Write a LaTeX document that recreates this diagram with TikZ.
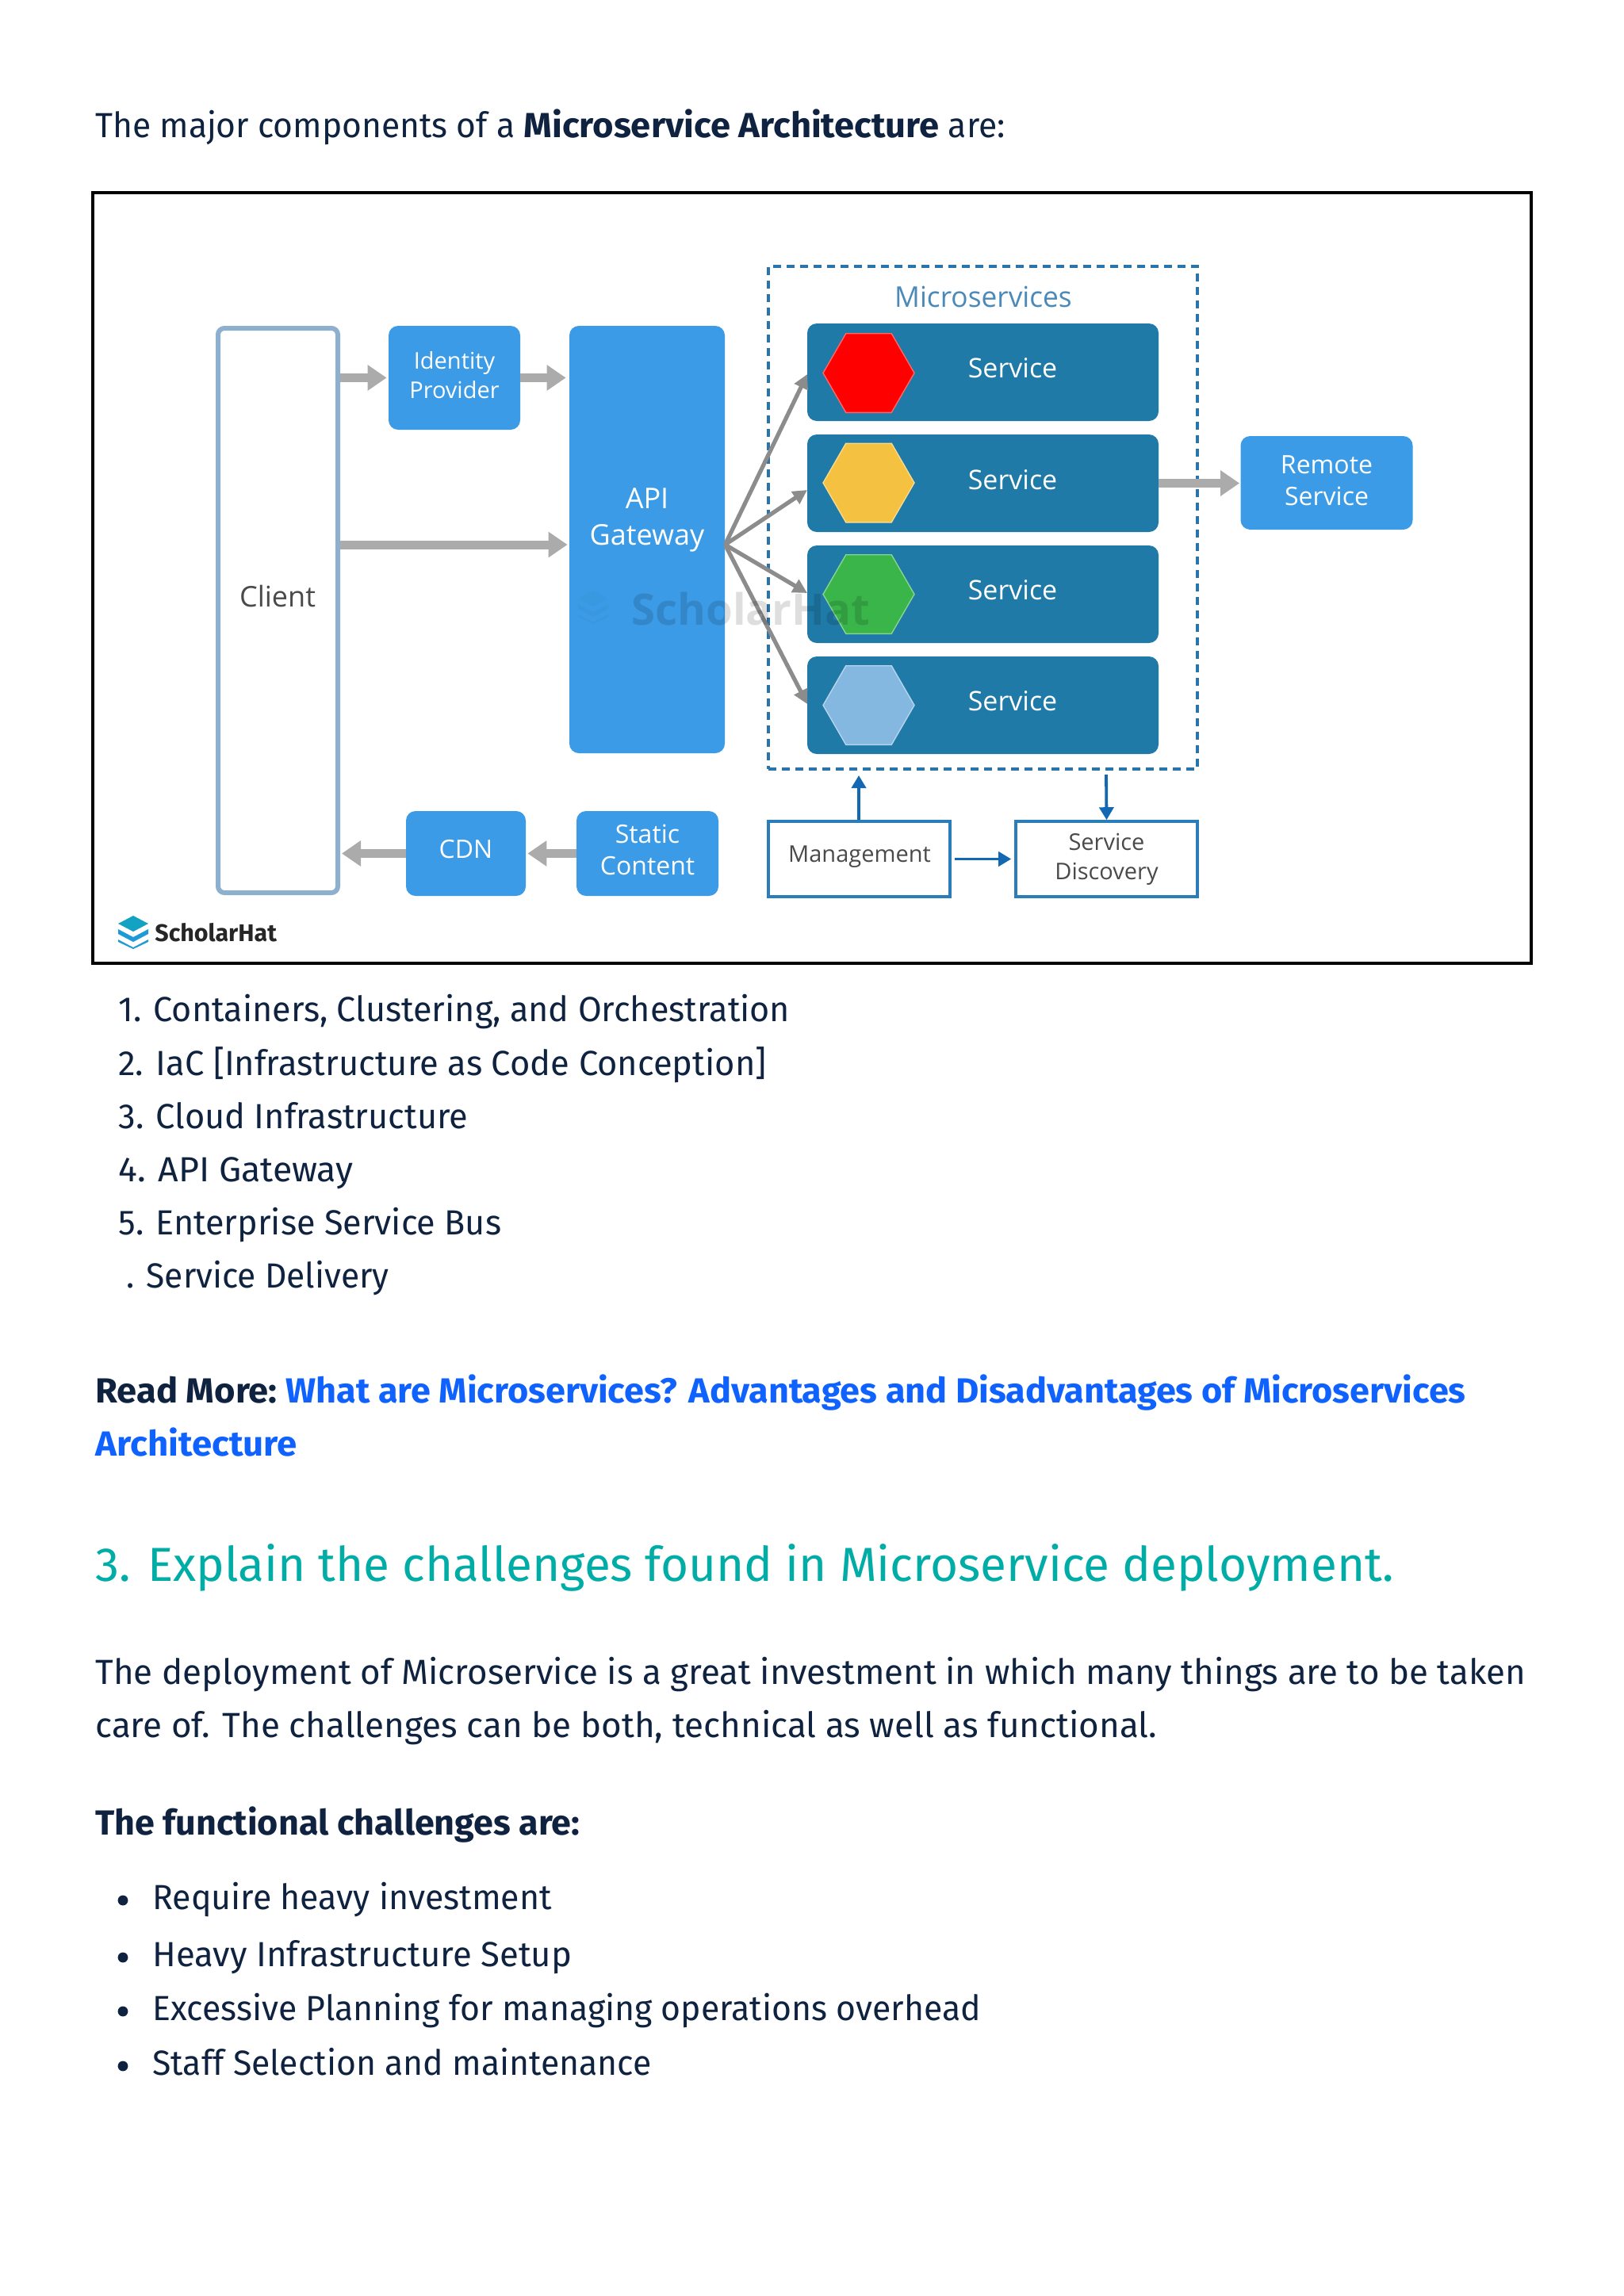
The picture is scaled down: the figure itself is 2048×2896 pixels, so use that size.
\documentclass[tikz,border=0pt]{standalone}
\usepackage{fontspec}
\usepackage{graphicx}
\usetikzlibrary{arrows.meta,shapes.geometric}
\setmainfont{Fira Sans}
\newfontfamily\diag{Open Sans}
\newcommand{\sx}[2]{\scalebox{#1}[1]{#2}}
\definecolor{ink}{HTML}{0F2340}
\definecolor{boxblue}{HTML}{3B9BE6}
\definecolor{svcblue}{HTML}{1F7AA8}
\definecolor{dashblue}{HTML}{2A74AC}
\definecolor{linkblue}{HTML}{0F62FE}
\definecolor{teal}{HTML}{00ADA6}
\definecolor{clientedge}{HTML}{8DB0CF}
\definecolor{arrowgray}{HTML}{ABABAB}
\definecolor{fangray}{HTML}{8C8C8C}
\definecolor{arrowblue}{HTML}{1268B3}
\definecolor{mgmtedge}{HTML}{2A7DB8}
\definecolor{labelgray}{HTML}{4A4A4A}
\definecolor{HexY}{HTML}{F4C141}
\definecolor{HexG}{HTML}{39B54A}
\definecolor{HexB}{HTML}{85B8E0}
\definecolor{Logob}{HTML}{1E9BD7}
\tikzset{
  bluebox/.style={fill=boxblue,rounded corners=6pt,text=white,align=center,inner sep=0pt,font=\diag\fontsize{16}{20}\selectfont},
  svcbox/.style={fill=svcblue,rounded corners=6pt,minimum width=221.5pt,minimum height=61.5pt,inner sep=0pt},
  svclabel/.style={text=white,inner sep=0pt,font=\diag\fontsize{17}{21}\selectfont},
  hexa/.style={regular polygon,regular polygon sides=6,minimum size=57.5pt,inner sep=0pt,line width=.7pt},
  plainbox/.style={draw=mgmtedge,line width=1.8pt,fill=white,inner sep=0pt,align=center,text=labelgray,minimum height=47.5pt,font=\diag\fontsize{14.5}{18.5}\selectfont},
  thickarrow/.style={draw=arrowgray,line width=5.5pt,-{Triangle[length=12pt,width=15.5pt]}},
  fanarrow/.style={draw=fangray,line width=2.6pt,-{Triangle[length=9pt,width=9pt]}},
  bluearrow/.style={draw=arrowblue,line width=1.9pt,-{Triangle[length=8pt,width=9pt]}},
  body/.style={anchor=base west,inner sep=0pt,text=ink,font=\fontsize{22}{26}\selectfont},
  bodybold/.style={body,font=\fontsize{22}{26}\selectfont\bfseries},
  pics/scholarlogo/.style={code={
    \fill[#1!60!teal] (0,-21)--(19,-11)--(0,-1)--(-19,-11)--cycle;
    \fill[#1] (-19,-4)--(0,6)--(19,-4)--(19,2)--(0,12)--(-19,2)--cycle;
    \fill[#1] (-19,9)--(0,19)--(19,9)--(19,12)--(0,21)--(-19,12)--cycle;
  }}
}
\begin{document}
\begin{tikzpicture}[x=0.5pt,y=-0.5pt]
\useasboundingbox[fill=white] (0,0) rectangle (2048,2896);

\node[body] (intro) at (120,173) {\sx{.967}{The major components of a }\sx{1.03}{\bfseries Microservice Architecture}\sx{.97}{ are:}};

\node[draw=black,line width=2pt,minimum width=907pt,minimum height=486pt,inner sep=0pt] (frame) at (1024,729) {};

\node[draw=clientedge,line width=3pt,rounded corners=4pt,fill=white,minimum width=75.5pt,minimum height=356pt,inner sep=0pt] (client) at (350.5,770) {};
\node[inner sep=0pt,text=labelgray,font=\diag\fontsize{18}{22}\selectfont] (clientlabel) at (350,752) {Client};
\node[bluebox,minimum width=83pt,minimum height=65.5pt] (idp) at (573,476.5) {};
\node[text=white,inner sep=0pt,align=center,font=\diag\fontsize{14.5}{18.5}\selectfont] (idplabel) at (573,473) {Identity\\Provider};
\node[bluebox,minimum width=98pt,minimum height=269.5pt] (api) at (816,680.5) {};
\node[text=white,inner sep=0pt,align=center,font=\diag\fontsize{18}{23}\selectfont] (apilabel) at (816,656) {API\\Gateway};
\node[bluebox,minimum width=75.5pt,minimum height=53.5pt] (cdn) at (587.5,1076.5) {};
\node[text=white,inner sep=0pt,font=\diag\fontsize{16}{20}\selectfont] (cdnlabel) at (587.5,1071) {CDN};
\node[bluebox,minimum width=89.5pt,minimum height=53.5pt] (static) at (816.5,1076.5) {};
\node[text=white,inner sep=0pt,align=center,font=\diag\fontsize{16}{20}\selectfont] (staticlabel) at (816.5,1072) {Static\\Content};

\node[draw=dashblue,line width=1.8pt,dash pattern=on 5pt off 3.5pt,minimum width=270.5pt,minimum height=317pt,inner sep=0pt] (msbox) at (1239.5,653) {};
\node[inner sep=0pt,text=dashblue!85!white,font=\diag\fontsize{18}{22}\selectfont] (mslabel) at (1240,374) {\sx{.98}{Microservices}};
\node[svcbox] (s1) at (1239.5,469.5) {};
\node[svcbox] (s2) at (1239.5,609.5) {};
\node[svcbox] (s3) at (1239.5,749.5) {};
\node[svcbox] (s4) at (1239.5,889.5) {};
\node[hexa,fill=red,draw=red!60!white] (h1) at (1095.5,470.5) {};
\node[hexa,fill=HexY,draw=HexY!60!white] (h2) at (1095.5,609) {};
\node[hexa,fill=HexG,draw=HexG!60!white] (h3) at (1095.5,749.5) {};
\node[hexa,fill=HexB,draw=HexB!60!white] (h4) at (1095.5,889.5) {};
\node[svclabel] (l1) at (1277,464) {Service};
\node[svclabel] (l2) at (1277,605) {Service};
\node[svclabel] (l3) at (1277,744) {Service};
\node[svclabel] (l4) at (1277,884) {Service};
\node[bluebox,minimum width=108.5pt,minimum height=59pt] (remote) at (1673,609) {};
\node[text=white,inner sep=0pt,align=center,font=\diag\fontsize{16}{20}\selectfont] (remotelabel) at (1673,606) {Remote\\Service};
\node[plainbox,minimum width=114.5pt] (mgmt) at (1083.5,1083.5) {};
\node[inner sep=0pt,text=labelgray,font=\diag\fontsize{14.5}{19}\selectfont] (mgmtlabel) at (1084,1081) {Management};
\node[plainbox,minimum width=114.5pt] (sd) at (1395.5,1083.5) {Service\\Discovery};

\coordinate (apiin) at (api.west |- 0,687);
\coordinate (fan) at (api.east |- 0,687);
\coordinate (t1) at (1018,472);
\coordinate (t2) at (1018,618);
\coordinate (t3) at (1018,748);
\coordinate (t4) at (1018,888);
\coordinate (msup) at (1083,978);
\coordinate (msdown) at (1395,977);
\draw[thickarrow] (client.east |- idp.west) -- ([xshift=-1pt]idp.west);
\draw[thickarrow] (idp.east) -- ([xshift=-2pt]api.west |- idp.east);
\draw[thickarrow] (client.east |- apiin) -- ([xshift=-1pt]apiin);
\draw[thickarrow] (cdn.west) -- ([xshift=1pt]client.east |- cdn.west);
\draw[thickarrow] (static.west) -- ([xshift=1pt]cdn.east);
\draw[thickarrow] (s2.east) -- ([xshift=-.5pt]remote.west |- s2.east);
\foreach \t in {t1,t2,t3,t4} \draw[fanarrow] (fan) -- (\t);
\draw[bluearrow] (mgmt.north -| msup) -- (msup);
\draw[bluearrow] (msdown) -- (sd.north);
\draw[bluearrow] ([xshift=2pt]mgmt.east) -- ([xshift=-2pt]sd.west |- mgmt.east);

\pic[opacity=.05] at (748,766) {scholarlogo=boxblue!50!black};
\node[inner sep=0pt,anchor=west,opacity=.13,text=black,font=\diag\fontsize{27.3}{32}\selectfont\bfseries] (wm) at (796,768) {ScholarHat};

\pic at (168,1176) {scholarlogo=Logob};
\node[inner sep=0pt,anchor=west,text=black!85,font=\fontsize{15.2}{19}\selectfont\bfseries] (lg) at (195,1176) {ScholarHat};

\node[body] (n1) at (149,1288) {\sx{.98}{1. Containers, Clustering, and Orchestration}};
\node[body] (n2) at (149,1356) {\sx{.988}{2. IaC [Infrastructure as Code Conception]}};
\node[body] (n3) at (149,1423) {\sx{.985}{3. Cloud Infrastructure}};
\node[body] (n4) at (149,1490) {\sx{1.015}{4. API Gateway}};
\node[body] (n5) at (149,1557) {\sx{.98}{5. Enterprise Service Bus}};
\node[body] (n6) at (159,1624) {\sx{.967}{. Service Delivery}};

\node[bodybold] (rm) at (120,1769) {\sx{1.03}{Read More:} \sx{1.023}{\textcolor{linkblue}{What are Microservices? Advantages and Disadvantages of Microservices}}};
\node[bodybold,text=linkblue] (rm2) at (120,1836) {\sx{1.036}{Architecture}};

\node[body,text=teal,font=\fontsize{30.1}{36}\selectfont] (h3t) at (120,1994) {3. Explain the challenges found in Microservice deployment.};

\node[body] (p1) at (120,2124) {\sx{.996}{The deployment of Microservice is a great investment in which many things are to be taken}};
\node[body] (p2) at (120,2191) {care of. The challenges can be both, technical as well as functional.};
\node[bodybold] (fc) at (120,2314) {\sx{1.02}{The functional challenges are:}};

\foreach \yy/\nm/\fc/\tx in {2408/b1/.975/Require heavy investment,2480/b2/.993/Heavy Infrastructure Setup,2548/b3/.972/Excessive Planning for managing operations overhead,2617/b4/.971/Staff Selection and maintenance}{
  \fill[ink] (155,\yy-11) circle (3.2pt);
  \node[body] (\nm) at (192,\yy) {\sx{\fc}{\tx}};
}
\end{tikzpicture}
\end{document}
